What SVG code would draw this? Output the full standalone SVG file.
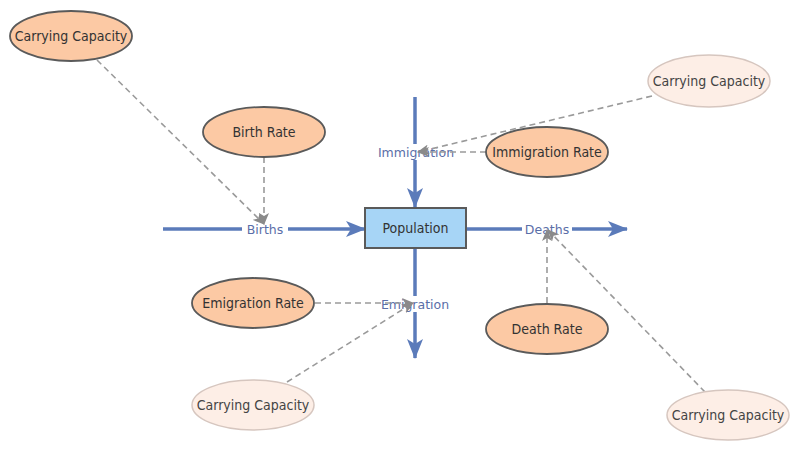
<svg xmlns="http://www.w3.org/2000/svg" width="800" height="451" viewBox="0 0 800 451">
<style>
.flow{stroke:#5b7bba;stroke-width:3.5;fill:none}
.link{stroke:#9a9a9a;stroke-width:1.6;stroke-dasharray:6,4;fill:none}
.var ellipse{fill:#fcc9a4;stroke:#5a5a5a;stroke-width:1.8}
.ghost ellipse{fill:#fdeee6;stroke:#d6c6bf;stroke-width:1.5}
.t{font-family:"Comic Sans MS","DejaVu Sans Condensed","DejaVu Sans",sans-serif;font-size:14px;fill:#333;text-anchor:middle;dominant-baseline:central}
.ghost .t{fill:#444}
.fl{font-family:"Comic Sans MS","DejaVu Sans",sans-serif;font-size:12.5px;fill:#5a6ea8;text-anchor:middle;dominant-baseline:central}
.bg{fill:#fff}
</style>
<defs>
<marker id="fa" viewBox="0 0 20 16" refX="19" refY="8" markerWidth="20" markerHeight="16" markerUnits="userSpaceOnUse" orient="auto">
<path d="M0,0 L20,8 L0,16 L5,8 Z" fill="#5b7bba"/>
</marker>
<marker id="la" viewBox="0 0 12 10" refX="11" refY="5" markerWidth="12" markerHeight="10" markerUnits="userSpaceOnUse" orient="auto">
<path d="M0,0 L12,5 L0,10 L3,5 Z" fill="#8a8a8a"/>
</marker>
</defs>
<rect width="800" height="451" fill="#fff"/>
<g id="connectors">
<line class="flow" x1="163" y1="229" x2="365" y2="229" marker-end="url(#fa)"/>
<line class="flow" x1="415" y1="97" x2="415" y2="207" marker-end="url(#fa)"/>
<line class="flow" x1="467" y1="229" x2="627" y2="229" marker-end="url(#fa)"/>
<line class="flow" x1="415" y1="249" x2="415" y2="358" marker-end="url(#fa)"/>
<rect class="bg" x="242" y="221" width="46" height="16"/>
<text class="fl" x="265" y="229">Births</text>
<rect class="bg" x="375" y="144" width="82" height="16"/>
<text class="fl" x="416" y="152">Immigration</text>
<rect class="bg" x="522" y="221" width="50" height="16"/>
<text class="fl" x="547" y="229">Deaths</text>
<rect class="bg" x="379" y="296" width="73" height="16"/>
<text class="fl" x="415" y="304">Emigration</text>
<line class="link" x1="97" y1="60" x2="264" y2="224" marker-end="url(#la)"/>
<line class="link" x1="264" y1="157" x2="264" y2="224" marker-end="url(#la)"/>
<line class="link" x1="652" y1="96" x2="418" y2="152" marker-end="url(#la)"/>
<line class="link" x1="486" y1="152" x2="418" y2="152" marker-end="url(#la)"/>
<line class="link" x1="315" y1="303" x2="413" y2="303" marker-end="url(#la)"/>
<line class="link" x1="287" y1="382" x2="413" y2="303" marker-end="url(#la)"/>
<line class="link" x1="547" y1="303" x2="547" y2="230" marker-end="url(#la)"/>
<line class="link" x1="705" y1="392" x2="548" y2="230" marker-end="url(#la)"/>
</g>
<g id="population">
<rect x="365" y="208" width="101" height="40" fill="#a7d5f6" stroke="#5a5a5a" stroke-width="2"/>
<text class="t" x="415.5" y="228">Population</text>
</g>
<g id="cc1" class="var"><ellipse cx="71" cy="36" rx="61" ry="25"/><text class="t" x="71" y="36">Carrying Capacity</text></g>
<g id="birthrate" class="var"><ellipse cx="264" cy="132" rx="61" ry="25"/><text class="t" x="264" y="132">Birth Rate</text></g>
<g id="immrate" class="var"><ellipse cx="547" cy="152" rx="61" ry="25"/><text class="t" x="547" y="152">Immigration Rate</text></g>
<g id="emrate" class="var"><ellipse cx="253" cy="303" rx="61" ry="25"/><text class="t" x="253" y="303">Emigration Rate</text></g>
<g id="deathrate" class="var"><ellipse cx="547" cy="329" rx="61" ry="25"/><text class="t" x="547" y="329">Death Rate</text></g>
<g id="cc2" class="ghost"><ellipse cx="709" cy="81" rx="61" ry="26"/><text class="t" x="709" y="81">Carrying Capacity</text></g>
<g id="cc3" class="ghost"><ellipse cx="253" cy="405" rx="61" ry="25"/><text class="t" x="253" y="405">Carrying Capacity</text></g>
<g id="cc4" class="ghost"><ellipse cx="728" cy="415" rx="61" ry="25"/><text class="t" x="728" y="415">Carrying Capacity</text></g>
</svg>
